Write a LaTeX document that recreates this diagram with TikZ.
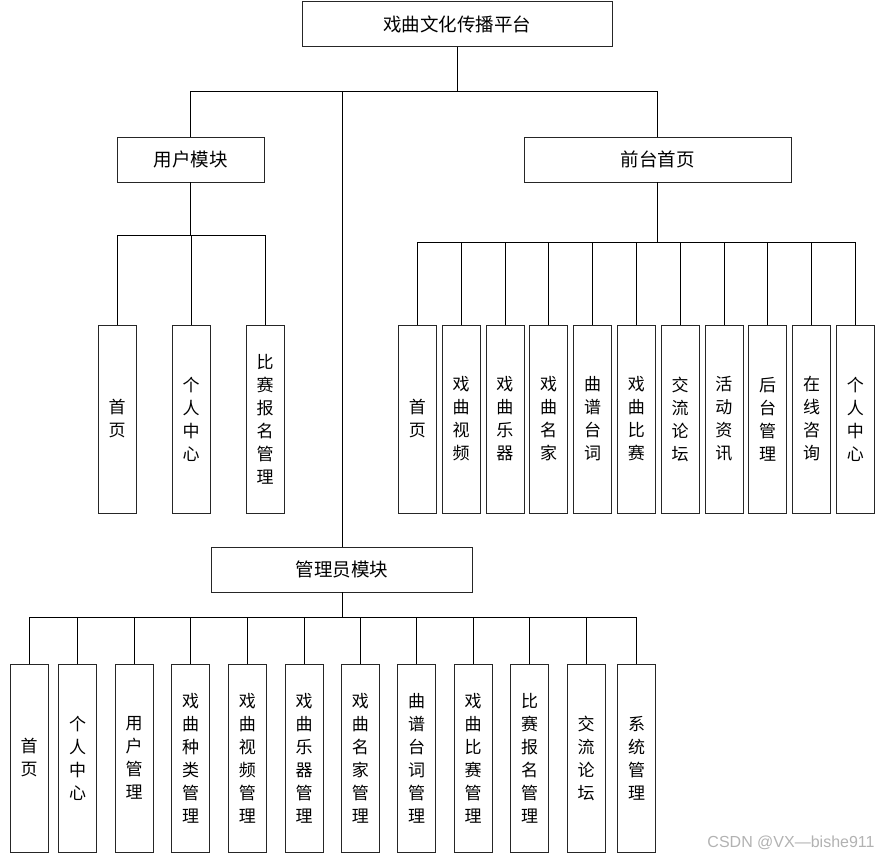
\documentclass[tikz,border=0pt]{standalone}
\usepackage{fontspec}
\setmainfont{Noto Sans CJK SC}
\newfontfamily\markfont{Liberation Sans}

\begin{document}
\begin{tikzpicture}[x=1pt,y=-1pt]
        \tikzstyle{every node}=[draw=black!85,line width=0.8pt,inner sep=0pt,font=\fontsize{17}{23}\selectfont]
        \tikzstyle{module}=[minimum height=45,font=\fontsize{18.5}{23}\selectfont]
        \tikzstyle{leaf}=[minimum width=38,minimum height=188,align=center]
        \tikzstyle{link}=[line width=0.8pt]
        \useasboundingbox (0,0) rectangle (879,858);
        \node[module,minimum width=310] (root) at (457,24) {戏曲文化传播平台};
        \node[module,minimum width=147] (user) at (190.5,159.5) {用户模块};
        \node[module,minimum width=267] (front) at (657.5,159.5) {前台首页};
        \node[module,minimum width=261] (admin) at (342,569.5) {管理员模块};
        \coordinate (rootbar) at (457,91);
        \coordinate (userbar) at (190.5,235);
        \coordinate (frontbar) at (657.5,242);
        \coordinate (adminbar) at (342,617);
        \draw[link] (root) -- (rootbar);
        \foreach \m in {user,front,admin} \draw[link] (\m.north) |- (rootbar);
        \draw[link] (user) -- (userbar);
        \draw[link] (front) -- (frontbar);
        \draw[link] (admin) -- (adminbar);
        % user module
        \foreach \x/\t [count=\i] in {117/{首\\页},191/{个\\人\\中\\心},265/{比\\赛\\报\\名\\管\\理}} {
            \node[leaf] (u\i) at (\x,419) {\t};
            \draw[link] (u\i.north) |- (userbar);
        }
        % front page
        \foreach \t [count=\i] in {{首\\页},{戏\\曲\\视\\频},{戏\\曲\\乐\\器},{戏\\曲\\名\\家},{曲\\谱\\台\\词},{戏\\曲\\比\\赛},{交\\流\\论\\坛},{活\\动\\资\\讯},{后\\台\\管\\理},{在\\线\\咨\\询},{个\\人\\中\\心}} {
            \node[leaf] (f\i) at ({417.3+43.8*(\i-1)},419) {\t};
            \draw[link] (f\i.north) |- (frontbar);
        }
        % admin module
        \foreach \x/\t [count=\i] in {29/{首\\页},77.5/{个\\人\\中\\心},134/{用\\户\\管\\理},190.7/{戏\\曲\\种\\类\\管\\理},247.3/{戏\\曲\\视\\频\\管\\理},304/{戏\\曲\\乐\\器\\管\\理},360.3/{戏\\曲\\名\\家\\管\\理},416.7/{曲\\谱\\台\\词\\管\\理},473/{戏\\曲\\比\\赛\\管\\理},529.5/{比\\赛\\报\\名\\管\\理},586/{交\\流\\论\\坛},636.5/{系\\统\\管\\理}} {
            \node[leaf] (a\i) at (\x,758) {\t};
            \draw[link] (a\i.north) |- (adminbar);
        }
        \node[draw=none,text=black!30,font=\markfont\fontsize{16}{18}\selectfont,anchor=east] (mark) at (875,843) {CSDN @VX—bishe911};
\end{tikzpicture}
\end{document}
